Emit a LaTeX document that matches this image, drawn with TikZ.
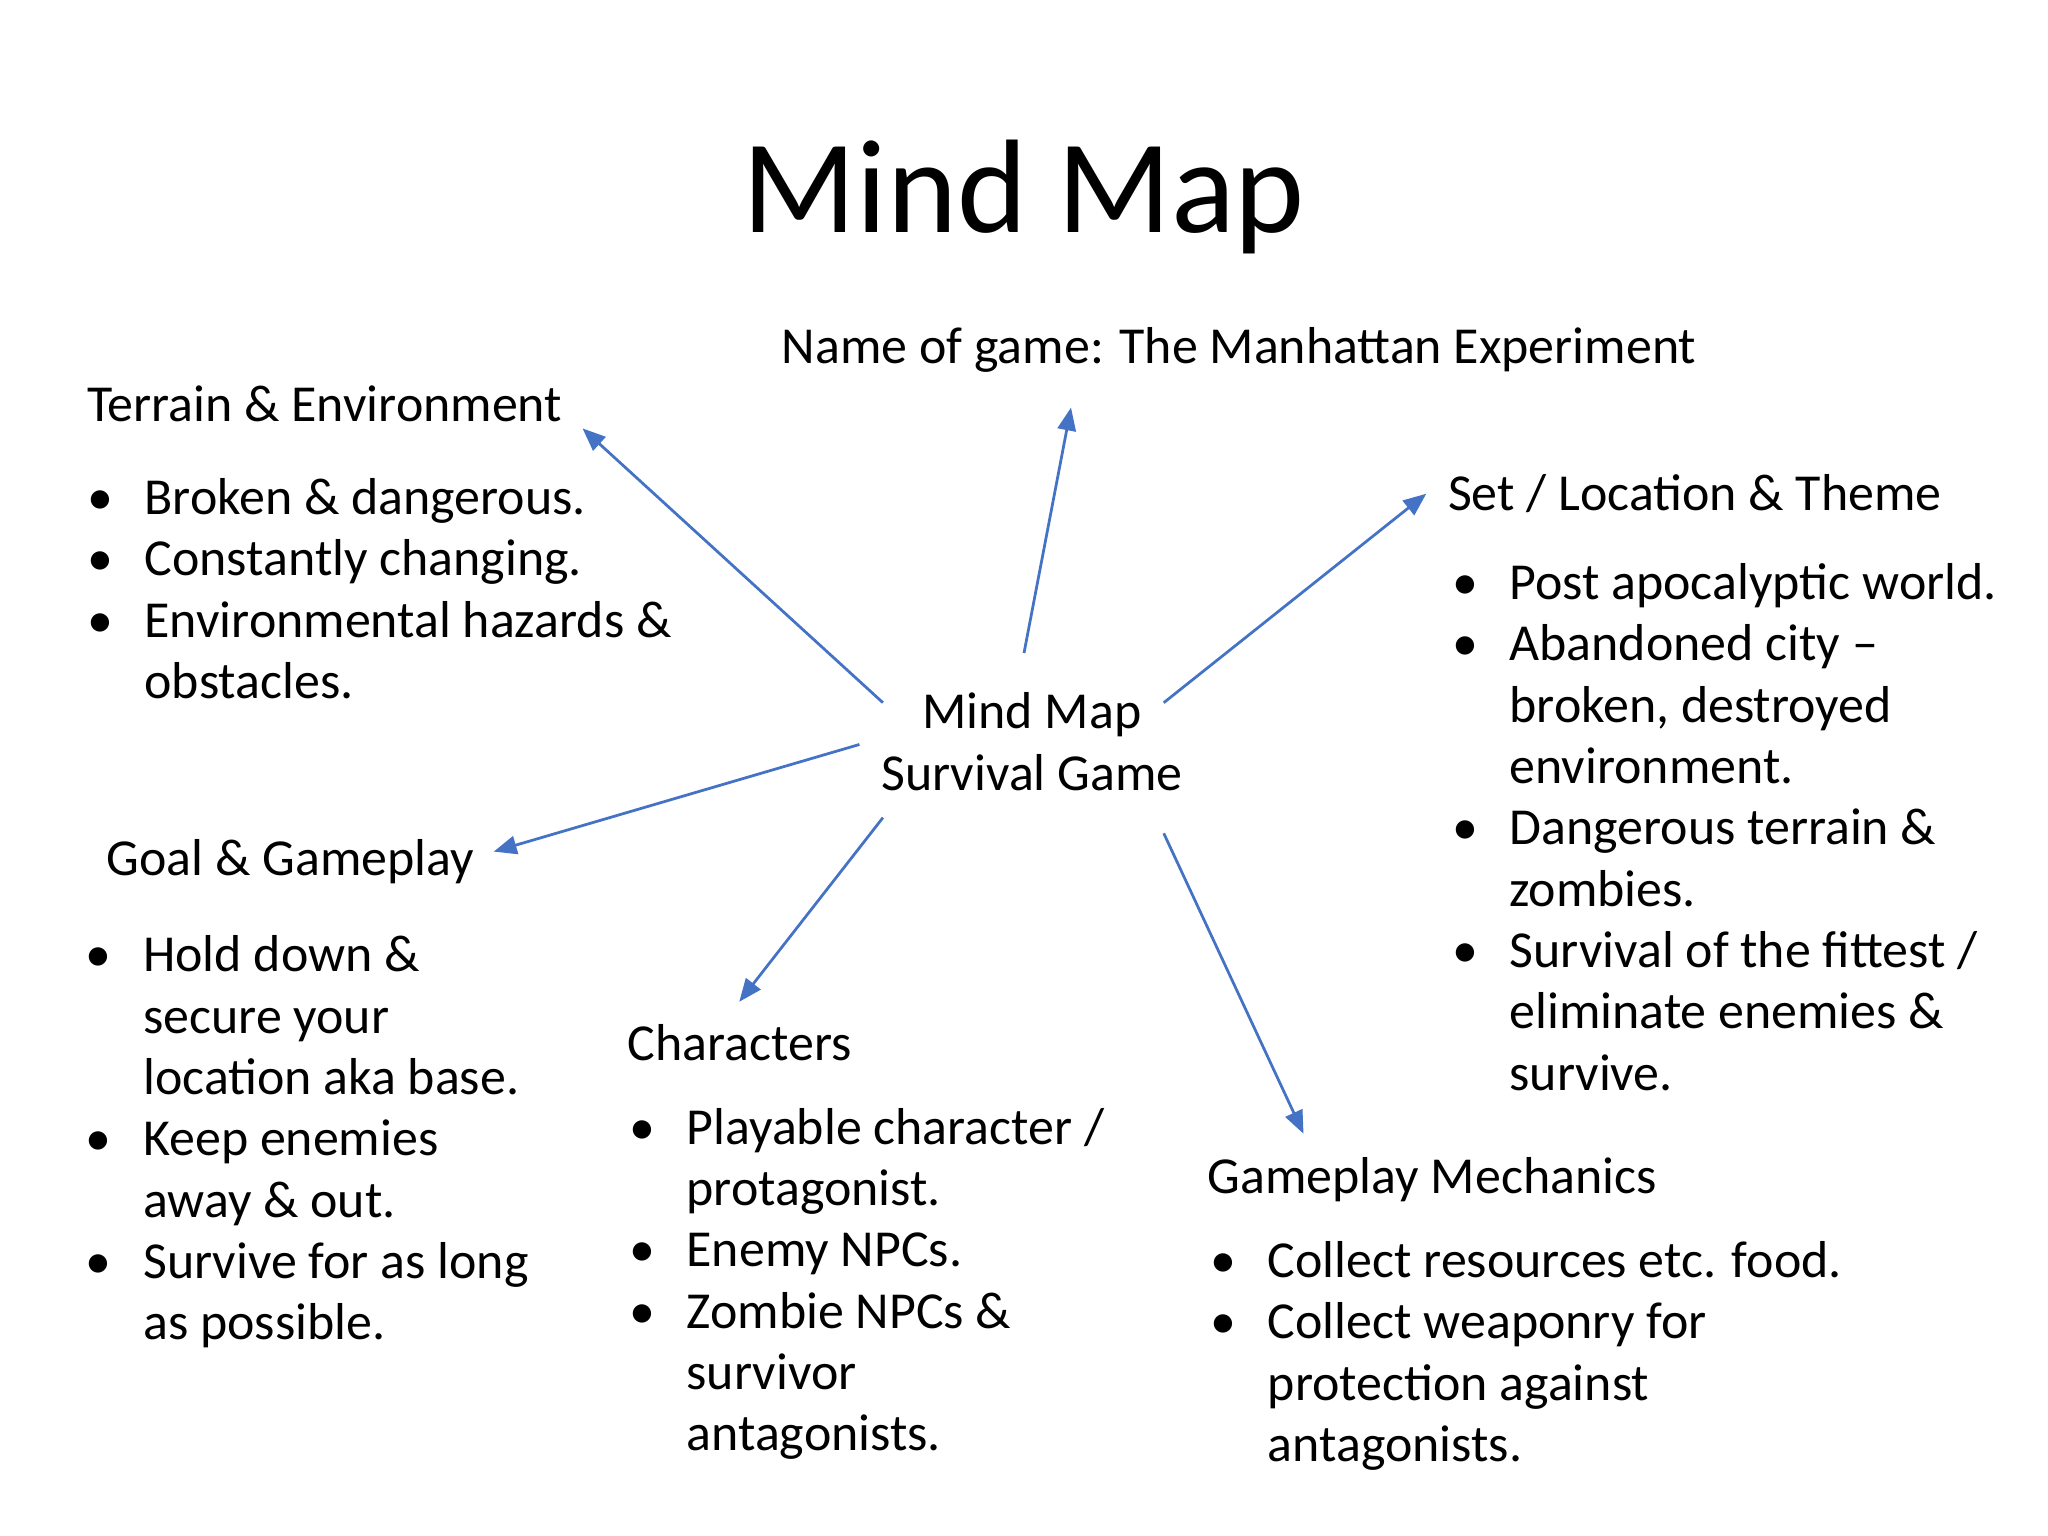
\documentclass[tikz,border=0pt]{standalone}
\usepackage{fontspec}
\setmainfont{Carlito}
\usepackage{array}
\usetikzlibrary{arrows.meta,positioning}
\definecolor{linkblue}{RGB}{68,114,196}
% one bullet list, baseline at the first row
\newcommand{\blist}[1]{\begin{tabular}[t]{@{}p{0.44cm}@{}l@{}}#1\end{tabular}}
\newcommand{\bi}{\textbullet&}
\tikzset{
  txt/.style={anchor=base west, inner sep=0pt, font=\fontsize{11.3}{13.35}\selectfont},
  link/.style={-{Triangle[length=5pt,width=4pt]}, draw=linkblue, line width=0.6pt}
}
\begin{document}
\begin{tikzpicture}[x=0.01cm,y=-0.01cm]
\useasboundingbox (0,0) rectangle (1568,1176);
\node[anchor=base, inner sep=0pt, font=\fontsize{29}{34}\selectfont] (title) at (784,178) {Mind Map};
\node[txt, anchor=base] (hub1) at (790,558) {Mind Map};
\node[txt, anchor=base] (hub2) at (790,605) {Survival Game};
\node[txt] (name) at (598,278) {Name of game: The Manhattan Experiment};
% terrain
\node[txt] (terrain) at (66,323) {Terrain \& Environment};
\node[txt] (terrainlist) at (66,394) {\blist{\bi Broken \& dangerous.\\ \bi Constantly changing.\\ \bi Environmental hazards \&\\ & obstacles.}};
% set
\node[txt] (setting) at (1108,391) {Set / Location \& Theme};
\node[txt] (settinglist) at (1111,459) {\blist{\bi Post apocalyptic world.\\ \bi Abandoned city --\\ & broken, destroyed\\ & environment.\\ \bi Dangerous terrain \&\\ & zombies.\\ \bi Survival of the fittest /\\ & eliminate enemies \&\\ & survive.}};
% goal
\node[txt] (goal) at (81,670) {Goal \& Gameplay};
\node[txt] (goallist) at (65,744) {\blist{\bi Hold down \&\\ & secure your\\ & location aka base.\\ \bi Keep enemies\\ & away \& out.\\ \bi Survive for as long\\ & as possible.}};
% characters
\node[txt] (chars) at (480,812) {Characters};
\node[txt] (charslist) at (481,876) {\blist{\bi Playable character /\\ & protagonist.\\ \bi Enemy NPCs.\\ \bi Zombie NPCs \&\\ & survivor\\ & antagonists.}};
% mechanics
\node[txt] (mech) at (924,914) {Gameplay Mechanics};
\node[txt] (mechlist) at (926,978) {\blist{\bi Collect resources etc. food.\\ \bi Collect weaponry for\\ & protection against\\ & antagonists.}};
% arrow ends
\coordinate (sT) at (676,538); \coordinate (eT) at (446,328);
\coordinate (sN) at (784,500); \coordinate (eN) at (820,312);
\coordinate (sS) at (891,538); \coordinate (eS) at (1092,378);
\coordinate (sG) at (658,570); \coordinate (eG) at (378,652);
\coordinate (sC) at (676,626); \coordinate (eC) at (566,767);
\coordinate (sM) at (891,638); \coordinate (eM) at (998,868);
\foreach \k in {T,N,S,G,C,M} \draw[link] (s\k) -- (e\k);
\end{tikzpicture}
\end{document}
